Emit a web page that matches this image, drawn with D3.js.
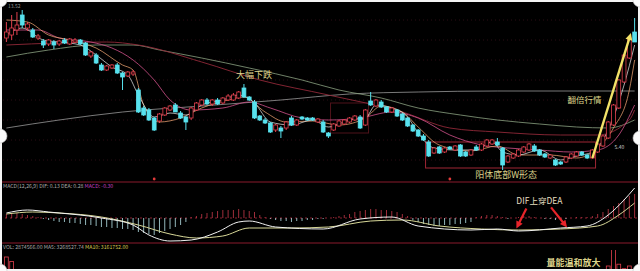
<!DOCTYPE html>
<html>
<head>
<meta charset="utf-8">
<script src="https://cdn.jsdelivr.net/npm/d3@7"></script>
<style>
  html, body { margin: 0; padding: 0; background: #000; overflow: hidden; }
  text { font-family: "Noto Sans CJK SC", "Noto Sans", sans-serif; }
</style>
</head>
<body>
<svg id="chart" width="640" height="271"></svg>
<script>
/* ---------- data ---------- */
// daily candles: [open, high, low, close]
const candles = [
  [12.10,12.90,11.90,12.40],[12.25,13.25,12.00,12.60],[12.50,13.40,12.25,12.75],[13.25,13.50,12.60,12.75],
  [12.60,12.90,12.45,12.80],[12.50,12.60,12.10,12.15],[12.10,12.30,12.00,12.20],[11.95,12.05,11.60,11.75],
  [11.80,12.05,11.70,12.00],[11.90,12.00,11.55,11.75],[11.80,12.00,11.70,11.95],[12.00,12.10,11.80,11.85],
  [11.80,12.10,11.75,12.05],[11.90,12.10,11.85,12.00],[12.00,12.05,11.75,11.80],[11.85,11.90,11.20,11.25],
  [11.20,11.45,11.10,11.40],[11.25,11.35,10.80,10.85],[10.75,10.85,10.45,10.50],[10.50,10.75,10.45,10.70],
  [10.60,10.80,10.55,10.75],[10.75,10.85,10.30,10.35],[10.35,10.40,9.50,10.15],[10.20,10.45,10.15,10.40],
  [10.30,10.50,10.20,10.40],[9.50,9.60,8.35,8.40],[8.60,8.70,8.20,8.25],[8.50,8.60,7.95,8.00],
  [8.10,8.15,7.45,7.50],[7.95,8.35,7.85,8.30],[8.25,8.65,8.20,8.60],[8.50,8.75,8.45,8.70],
  [8.75,8.85,8.40,8.40],[8.35,8.45,8.05,8.10],[8.15,8.20,7.50,7.90],[8.10,8.65,8.00,8.60],
  [8.50,8.90,8.45,8.85],[8.75,9.05,8.70,9.00],[9.00,9.10,8.75,8.80],[8.80,9.05,8.70,9.00],
  [9.00,9.10,8.75,8.80],[8.85,9.15,8.80,9.10],[9.00,9.30,8.95,9.20],[9.00,9.35,8.95,9.25],
  [9.10,9.45,9.05,9.40],[9.60,9.80,9.10,9.15],[9.15,9.20,8.95,9.00],[8.90,9.00,8.05,8.10],
  [8.20,8.25,7.95,8.00],[8.00,8.10,7.80,7.85],[7.85,7.90,7.35,7.40],[7.50,7.80,7.40,7.75],
  [7.60,7.70,7.10,7.45],[7.60,7.95,7.50,7.90],[8.10,8.20,7.70,7.75],[7.75,8.05,7.70,8.00],
  [8.15,8.20,8.00,8.05],[8.10,8.15,7.95,8.00],[8.10,8.15,7.95,8.00],[7.90,8.10,7.85,8.05],
  [7.90,8.00,7.35,7.40],[7.35,7.40,7.10,7.20],[7.50,7.85,7.45,7.80],[7.70,8.00,7.65,7.95],
  [7.80,8.05,7.75,8.00],[7.90,8.15,7.85,8.10],[8.00,8.25,7.95,8.20],[8.15,8.25,7.55,7.60],
  [7.75,8.55,7.70,8.50],[8.95,9.40,8.70,8.75],[8.70,9.05,8.65,9.00],[8.90,9.00,8.60,8.65],
  [8.65,8.70,8.35,8.40],[8.40,8.65,8.35,8.60],[8.50,8.55,8.15,8.20],[8.30,8.35,7.95,8.00],
  [8.10,8.15,7.65,7.70],[7.75,7.80,7.40,7.45],[7.50,7.55,7.15,7.20],[7.20,7.30,6.95,7.00],
  [6.90,7.00,6.15,6.20],[6.35,6.65,6.30,6.60],[6.65,6.70,6.30,6.35],[6.40,6.65,6.35,6.60],
  [6.65,6.70,6.50,6.55],[6.50,6.75,6.45,6.70],[6.75,6.80,6.15,6.20],[6.40,6.45,6.15,6.20],
  [6.25,6.55,6.20,6.50],[6.65,6.75,6.45,6.50],[6.50,6.85,6.45,6.80],[6.70,7.05,6.65,7.00],
  [6.80,7.05,6.75,7.00],[6.90,7.10,6.70,6.75],[6.60,6.65,5.50,5.75],[5.90,6.25,5.85,6.20],
  [6.10,6.35,6.05,6.30],[6.20,6.55,6.15,6.50],[6.40,6.70,6.35,6.65],[6.50,6.85,6.45,6.80],
  [6.70,6.80,6.40,6.45],[6.50,6.55,6.20,6.25],[6.30,6.35,6.10,6.15],[6.10,6.30,6.05,6.25],
  [6.00,6.05,5.70,5.75],[5.90,5.95,5.75,5.80],[5.90,6.20,5.85,6.15],[6.10,6.35,6.05,6.30],
  [6.20,6.45,6.15,6.40],[6.40,6.45,6.20,6.25],[6.25,6.30,6.05,6.10],[6.10,6.55,6.05,6.50],
  [6.40,6.85,6.35,6.80],[6.70,7.25,6.65,7.20],[7.10,7.95,7.05,7.90],[7.75,8.80,7.70,8.75],
  [8.60,10.05,8.55,10.00],[9.90,11.30,9.85,11.25],[11.10,12.15,11.05,12.10],[12.40,13.10,11.90,11.90]
]

// moving averages, [day index, price]
const ma5 = [[0,12.25],[3,12.6],[7,12.0],[10,11.9],[14,11.75],[17,11.25],[20,10.65],[23,10.25],[25,9.25],
  [28,8.15],[31,8.35],[34,8.25],[37,8.75],[41,9.0],[44,9.25],[47,8.85],[50,7.9],[54,7.75],[58,8.0],
  [61,7.65],[65,8.0],[68,8.1],[70,8.75],[73,8.6],[76,8.15],[78,7.35],[81,6.6],[85,6.5],[89,6.5],
  [92,6.9],[94,6.4],[97,6.25],[101,6.5],[105,6.0],[108,6.2],[111,6.4],[114,7.5],[117,9.75],[119,11.75]]
const ma10 = [[0,13.0],[4,12.9],[8,12.25],[12,12.0],[17,11.6],[22,10.75],[24,10.5],[26,8.75],[29,7.9],
  [33,8.1],[37,8.6],[42,9.0],[45,9.15],[49,8.4],[53,7.9],[58,7.95],[63,7.75],[68,8.1],[71,8.7],
  [75,8.4],[78,7.65],[82,6.75],[88,6.45],[93,6.7],[97,6.25],[103,6.25],[108,6.1],[112,6.6],
  [115,7.6],[118,9.5],[119,11.0]]
const ma20 = [[0,12.5],[6,12.5],[10,12.1],[16,11.9],[20,11.6],[24,11.0],[28,10.0],[31,9.0],[35,8.5],
  [41,8.6],[46,8.9],[50,8.6],[56,8.1],[61,8.0],[67,8.1],[73,8.4],[78,8.1],[84,7.25],[90,6.75],
  [95,6.6],[101,6.5],[107,6.4],[112,6.5],[116,7.25],[119,8.75]]
const ma30 = [[0,11.75],[19,11.9],[25,11.75],[37,10.9],[48,10.0],[61,9.25],[75,8.4],[84,7.6],
  [93,7.4],[105,7.25],[112,7.25],[118,8.0],[119,8.5]]
const ma60 = [[0,11.15],[8,11.5],[17,11.75],[24,11.75],[29,11.5],[37,11.1],[46,10.6],[56,10.0],
  [63,9.5],[71,9.1],[78,8.6],[86,8.25],[93,8.0],[101,7.8],[108,7.65],[114,7.6],[119,8.0]]
const ma250 = [[0,7.6],[10,8.0],[22,8.4],[37,8.7],[52,9.0],[65,9.3],[78,9.4],[93,9.45],[119,9.45]]

// MACD panel
const macdHist = [0.2,0.25,0.25,0.2,0.15,0.1, 0.05,-0.05,-0.1,
  -0.15,-0.2,-0.2,-0.25,-0.25,-0.3, -0.35,-0.35,-0.4,-0.45,-0.45,-0.5,
  -0.5,-0.55,-0.55,-0.6,-0.7,-0.75,-0.8,-0.85, -0.75,-0.65,-0.55,-0.45,-0.35,-0.2,0.05,
  0.1,0.2,0.25,0.3,0.35,0.4,0.4,0.4,0.45,0.4,0.35,0.3, 0.15,0.05,-0.05,-0.1,-0.15,
  -0.15,-0.2,-0.15,-0.15,-0.1,-0.1,-0.05,-0.05, 0.0,0.05,0.1,0.15,0.2,
  0.3,0.35,0.4,0.45,0.45,0.4,0.4,0.35,0.3,0.2,0.1,
  -0.1,-0.2,-0.3,-0.35,-0.4,-0.4,-0.35,-0.35,-0.3,-0.3,-0.25,-0.2,
  0.05,0.1,0.15,0.15,0.1,0.05,-0.05,0.0,0.05,0.1,0.1,
  0.05,0.0,-0.05,-0.05,-0.1,-0.1,-0.05,0.0,0.05,0.05,0.05,
  0.1,0.2,0.3,0.45,0.6,0.75,0.95,1.1,1.2]
const dif = [[0,0.25],[4,0.4],[8,0.3],[18,0.0],[24,-0.35],[27,-0.85],[31,-1.15],[35,-1.1],[40,-0.7],
  [44,-0.2],[46,-0.15],[51,-0.45],[60,-0.55],[67,-0.05],[73,0.05],[78,-0.4],[88,-0.6],[93,-0.55],
  [97,-0.65],[105,-0.5],[110,-0.4],[114,0.15],[117,0.9],[119,1.5]]
const dea = [[0,0.2],[5,0.3],[10,0.25],[18,0.05],[25,-0.35],[31,-0.8],[36,-1.0],[41,-0.9],[46,-0.5],
  [54,-0.5],[61,-0.45],[69,-0.15],[75,-0.1],[82,-0.4],[90,-0.55],[97,-0.6],[105,-0.55],[112,-0.4],
  [116,0.15],[119,0.75]]

// volume (10k shares)
const volumes = [700,650,480,420,380,350,330,300,310,290,300,280,300,290,280,420,350,400,380,320,
  300,360,420,330,300,520,450,400,430,380,350,330,300,310,340,380,360,340,300,290,
  280,300,310,320,360,420,330,470,380,350,400,320,330,340,330,290,260,250,240,270,
  380,300,320,330,310,300,320,400,440,480,380,350,330,300,320,340,360,380,400,380,
  460,350,320,330,280,300,380,330,320,300,330,350,340,320,480,350,330,340,330,340,
  310,300,290,280,330,260,280,300,310,290,280,350,420,480,600,790,620,570,600,560]

const macdLegend = ['MACD(12,26,9) DIF: 0.13 DEA: 0.28 ', 'MACD: -0.30']
const volLegend = ['VOL: 2874566.00 MA5: 3268527.74 ', 'MA10: 3161752.00']
const gridPrices = [13, 12, 11, 10, 9, 8, 7, 6]

/* ---------- layout ---------- */
const W = 640, H = 271
const main = { top: 5, bottom: 180 }
const macdBox = { top: 188, bottom: 248 }
const volBox = { top: 248, bottom: 271 }

const col = {
  up: '#e2404e', down: '#58e2ee', ma5: '#e8e8e8', ma10: '#e8a070', ma20: '#d0508a',
  ma30: '#902838', ma60: '#8aa080', ma250: '#a8a8a8', sep: '#8a1a2c', note: '#ddd48c'
}

const svg = d3.select('#chart')
svg.append('rect').attr('width', W).attr('height', H).attr('fill', '#000')

const n = candles.length
const x = d3.scaleBand().domain(d3.range(n)).range([3, 638]).padding(0.28)
const xi = d3.scaleLinear().domain([0, n - 1]).range([x(0) + x.bandwidth() / 2, x(n - 1) + x.bandwidth() / 2])
const y = d3.scaleLinear().domain([5, 13.75]).range([main.bottom, main.top])
const ym = d3.scaleLinear().domain([-1.5, 1.5]).range([macdBox.bottom, macdBox.top])
const yv = d3.scaleLinear().domain([0, 800]).range([320, volBox.top])

// faint grid
svg.append('g').selectAll('line').data(gridPrices).join('line')
  .attr('x1', 3).attr('x2', 638).attr('y1', d => y(d)).attr('y2', d => y(d))
  .attr('stroke', '#2c0c14').attr('stroke-dasharray', '1,3')

// boxes around the two consolidation zones
const zones = [
  { from: 79.4, to: 111.6, hi: 6.9, lo: 5.6, op: 0.9 },
  { from: 61.4, to: 68.6, hi: 8.85, lo: 7.35, op: 0.45 }
]
svg.append('g').selectAll('rect').data(zones).join('rect')
  .attr('x', d => xi(d.from)).attr('width', d => xi(d.to) - xi(d.from))
  .attr('y', d => y(d.hi)).attr('height', d => y(d.lo) - y(d.hi))
  .attr('fill', 'none').attr('stroke', '#b02a3a').attr('stroke-opacity', d => d.op)

// moving averages
const line = d3.line().x(d => xi(d[0])).y(d => y(d[1])).curve(d3.curveMonotoneX)
const maSets = [
  [ma250, col.ma250, 0.8], [ma60, col.ma60, 0.9], [ma30, col.ma30, 1],
  [ma20, col.ma20, 0.9], [ma10, col.ma10, 0.85], [ma5, col.ma5, 0.8]
]
svg.append('g').selectAll('path').data(maSets).join('path')
  .attr('d', d => line(d[0])).attr('fill', 'none')
  .attr('stroke', d => d[1]).attr('stroke-opacity', d => d[2]).attr('stroke-width', 0.9)

// candles
const cg = svg.append('g').selectAll('g').data(candles).join('g')
cg.append('line')
  .attr('x1', (d, i) => xi(i)).attr('x2', (d, i) => xi(i))
  .attr('y1', d => y(d[1])).attr('y2', d => y(d[2]))
  .attr('stroke', d => d[3] >= d[0] ? col.up : col.down).attr('stroke-width', 1)
cg.append('rect')
  .attr('x', (d, i) => x(i)).attr('width', x.bandwidth())
  .attr('y', d => y(Math.max(d[0], d[3])))
  .attr('height', d => Math.max(1, Math.abs(y(d[0]) - y(d[3]))))
  .attr('fill', d => d[3] >= d[0] ? '#000' : col.down)
  .attr('stroke', d => d[3] >= d[0] ? col.up : col.down).attr('stroke-width', 0.8)

// yellow rally arrow
const arrowFrom = [111, 6.1], arrowTo = [118.3, 12.35]
const ax1 = xi(arrowFrom[0]), ay1 = y(arrowFrom[1]), ax2 = xi(arrowTo[0]), ay2 = y(arrowTo[1])
const ang = Math.atan2(ay2 - ay1, ax2 - ax1)
svg.append('line').attr('x1', ax1).attr('y1', ay1)
  .attr('x2', ax2 - 5 * Math.cos(ang)).attr('y2', ay2 - 5 * Math.sin(ang))
  .attr('stroke', '#f2e268').attr('stroke-width', 2.4)
function head(px, py, a, len, wid) {
  const bx = px - len * Math.cos(a), by = py - len * Math.sin(a)
  const nx = -Math.sin(a) * wid, ny = Math.cos(a) * wid
  return `M${px},${py}L${bx + nx},${by + ny}L${bx - nx},${by - ny}Z`
}
svg.append('path').attr('d', head(ax2, ay2, ang, 7, 3.5)).attr('fill', '#f2e268')

// main panel notes
const notes = [
  { t: '大幅下跌', i: 43.5, p: 10.1, s: 9 },
  { t: '翻倍行情', i: 106.3, p: 8.85, s: 8.5 },
  { t: '阳体底部W形态', i: 88.8, p: 5.1, s: 9 }
]
svg.append('g').selectAll('text').data(notes).join('text')
  .attr('x', d => xi(d.i)).attr('y', d => y(d.p)).attr('font-size', d => d.s)
  .attr('fill', col.note).text(d => d.t)
svg.append('text').attr('x', xi(115.2)).attr('y', y(6.55)).attr('font-size', 5)
  .attr('fill', '#c8c8c8').text('5.40')
svg.append('text').attr('x', 8).attr('y', 8).attr('font-size', 5)
  .attr('fill', '#909090').text('13.52')

// panel separators
svg.append('g').selectAll('line').data([182, 243]).join('line')
  .attr('x1', 0).attr('x2', W).attr('y1', d => d).attr('y2', d => d)
  .attr('stroke', col.sep).attr('stroke-width', 1)
svg.append('g').selectAll('circle').data([28, 84]).join('circle')
  .attr('cx', d => xi(d)).attr('cy', 179).attr('r', 1.4).attr('fill', '#e03a3a')

// legends
function legend(yPos, parts, colors) {
  const t = svg.append('text').attr('x', 3).attr('y', yPos).attr('font-size', 5.2)
  parts.forEach((p, k) => t.append('tspan').attr('fill', colors[k]).text(p))
}
legend(187.5, macdLegend, ['#a8a8a8', '#c040c0'])
legend(248.5, volLegend, ['#a8a8a8', '#d8c850'])

// MACD panel
svg.append('line').attr('x1', 0).attr('x2', W).attr('y1', ym(0)).attr('y2', ym(0))
  .attr('stroke', '#8a2030').attr('stroke-dasharray', '2,3')
svg.append('g').selectAll('line').data(macdHist).join('line')
  .attr('x1', (d, i) => xi(i)).attr('x2', (d, i) => xi(i))
  .attr('y1', ym(0)).attr('y2', d => ym(d))
  .attr('stroke', d => d >= 0 ? '#c83a4a' : '#b8e4ea').attr('stroke-width', 0.8)
const mline = d3.line().x(d => xi(d[0])).y(d => ym(d[1])).curve(d3.curveMonotoneX)
svg.append('path').attr('d', mline(dea)).attr('fill', 'none').attr('stroke', '#d8d898').attr('stroke-width', 1)
svg.append('path').attr('d', mline(dif)).attr('fill', 'none').attr('stroke', '#f2f2f2').attr('stroke-width', 1)

// red arrows marking the DIF/DEA cross
const crosses = [{ i: 96.6, v: -0.52, dx: 10, dy: -20 }, { i: 106.2, v: -0.47, dx: -16, dy: -20 }]
crosses.forEach(c => {
  const tx = xi(c.i), ty = ym(c.v), fx = tx + c.dx, fy = ty + c.dy
  const a = Math.atan2(ty - fy, tx - fx)
  svg.append('line').attr('x1', fx).attr('y1', fy)
    .attr('x2', tx - 5 * Math.cos(a)).attr('y2', ty - 5 * Math.sin(a))
    .attr('stroke', '#e8242a').attr('stroke-width', 2.2)
  svg.append('path').attr('d', head(tx, ty, a, 7, 3.5)).attr('fill', '#e8242a')
})
svg.append('text').attr('x', xi(96.6)).attr('y', ym(0.72)).attr('font-size', 8.5)
  .attr('fill', '#e6dfc0').text('DIF上穿DEA')

// volume panel
const vg = svg.append('g').attr('clip-path', 'url(#volClip)')
svg.append('clipPath').attr('id', 'volClip').append('rect')
  .attr('x', 0).attr('y', 250).attr('width', W).attr('height', 21)
vg.selectAll('rect').data(volumes.slice(0, n)).join('rect')
  .attr('x', (d, i) => x(i)).attr('width', x.bandwidth())
  .attr('y', d => yv(d)).attr('height', d => yv(0) - yv(d))
  .attr('fill', (d, i) => candles[i][3] >= candles[i][0] ? '#000' : col.down)
  .attr('stroke', (d, i) => candles[i][3] >= candles[i][0] ? col.up : col.down).attr('stroke-width', 0.8)
svg.append('text').attr('x', xi(102.3)).attr('y', 266).attr('font-size', 9).attr('font-weight', 'bold')
  .attr('fill', col.note).text('量能温和放大')

// photo frame with crop handles
svg.append('rect').attr('x', 1).attr('y', 1).attr('width', W - 2).attr('height', H - 2)
  .attr('fill', 'none').attr('stroke', '#f4f4f4').attr('stroke-width', 2)
svg.append('g').selectAll('circle')
  .data([[0, 0], [W, 0], [0, H], [W, H], [0, 136], [W, 138]]).join('circle')
  .attr('cx', d => d[0]).attr('cy', d => d[1]).attr('r', 7)
  .attr('fill', '#fafafa').attr('stroke', '#c8c8c8').attr('stroke-width', 0.6)
</script>
</body>
</html>
